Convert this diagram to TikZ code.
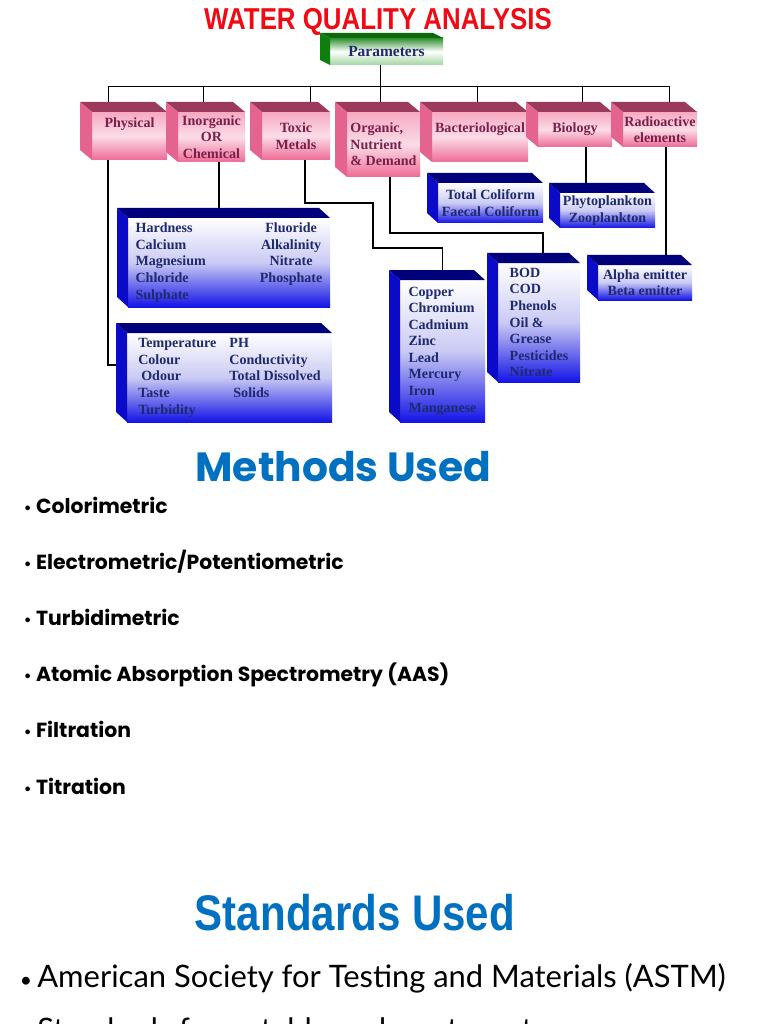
\documentclass[tikz,border=0pt]{standalone}
\usepackage{fontspec}
\setmainfont{Liberation Serif}
\newfontfamily\titlefont[FakeStretch=0.855]{Liberation Sans}
\newfontfamily\gothicfont{Poppins}
\newfontfamily\condfont[FakeStretch=0.84]{Liberation Sans}
\newfontfamily\lightfont{Lato}
\usetikzlibrary{positioning,backgrounds}

\newdimen\pxu \pxu=0.025cm

\definecolor{titleRed}{HTML}{F00A14}
\definecolor{headBlue}{HTML}{0070C0}
\definecolor{boxNavy}{HTML}{1E2A6E}
\definecolor{roseLight}{HTML}{F6A9C2}
\definecolor{rosePale}{HTML}{FBDCE7}
\definecolor{roseDeep}{HTML}{EE6B96}
\definecolor{roseDark}{HTML}{9C3A5D}
\definecolor{roseSide}{HTML}{E4638F}
\definecolor{roseText}{HTML}{7B1F4A}
\definecolor{bluePale}{HTML}{CACAF4}
\definecolor{blueDeep}{HTML}{1414E6}
\definecolor{blueDark}{HTML}{00007A}
\definecolor{blueSide}{HTML}{0A0AC8}
\definecolor{leafDeep}{HTML}{2F8F2F}
\definecolor{leafLight}{HTML}{A3D6A3}
\definecolor{leafDark}{HTML}{0B6B0B}
\definecolor{leafSide}{HTML}{0E7F0E}

\tikzset{
    faceBase/.style={
        inner sep=0pt,
        outer sep=0pt,
        align=center,
        font=\fontsize{10}{11.7}\selectfont\bfseries
    },
    pinkFace/.style={
        faceBase,
        top color=roseLight,
        bottom color=roseDeep,
        middle color=rosePale,
        text=roseText
    },
    blueFace/.style={
        faceBase,
        top color=white,
        bottom color=blueDeep,
        middle color=bluePale,
        text=boxNavy,
        font=\fontsize{10}{11.8}\selectfont\bfseries
    },
    greenFace/.style={
        faceBase,
        top color=leafDeep,
        bottom color=leafLight,
        middle color=white,
        text=boxNavy,
        font=\fontsize{11}{13}\selectfont\bfseries
    },
    pinkLid/.style={fill=roseDark},
    pinkSide/.style={fill=roseSide},
    blueLid/.style={fill=blueDark},
    blueSide/.style={fill=blueSide},
    busLine/.style={line width=0.7pt},
    branchLine/.style={line width=1.1pt},
    methodItem/.style={
        anchor=base west,
        font=\gothicfont\bfseries\fontsize{14.5}{18}\selectfont
    },
    standardItem/.style={
        anchor=base west,
        font=\lightfont\fontsize{22}{26}\selectfont
    }
}
\newcommand{\smallbullet}{{\fontsize{11}{11}\selectfont\textbullet}}
\newcommand{\midbullet}{{\fontsize{15}{15}\selectfont\textbullet}}

\begin{document}
\begin{tikzpicture}[x=0.025cm,y=-0.025cm]
    \useasboundingbox (0,0) rectangle (768,1024);

    \node[anchor=base,text=titleRed,font=\titlefont\bfseries\fontsize{21.5}{24}\selectfont] (title) at (378,30) {WATER QUALITY ANALYSIS};

    % parameter head
    \node[greenFace,minimum width=113\pxu,minimum height=27\pxu] (param) at (386.5,51.5) {Parameters};
    \fill[fill=leafDark] (param.north west) -- ++(-10,-5) -- ([shift={(-10,-5)}]param.north east) -- (param.north east) -- cycle;
    \fill[fill=leafSide] (param.north west) -- ++(-10,-5) -- ([shift={(-10,-5)}]param.south west) -- (param.south west) -- cycle;

    % groups
    \node[pinkFace,minimum width=75\pxu,minimum height=48\pxu,text depth=27\pxu] (phys) at (129.5,136) {Physical};
    \node[pinkFace,minimum width=67\pxu,minimum height=50\pxu] (inorg) at (211.5,137) {Inorganic\\OR\\Chemical};
    \node[pinkFace,minimum width=68\pxu,minimum height=48\pxu] (toxic) at (296,136) {Toxic\\Metals};
    \node[pinkFace,minimum width=73\pxu,minimum height=65\pxu,align=left] (org) at (383.5,144.5) {Organic,\\Nutrient\\\& Demand};
    \node[pinkFace,minimum width=96\pxu,minimum height=50\pxu,text depth=19\pxu] (bact) at (480,137) {Bacteriological};
    \node[pinkFace,minimum width=74\pxu,minimum height=35\pxu] (bio) at (575,129.5) {Biology};
    \node[pinkFace,minimum width=74\pxu,minimum height=35\pxu] (radio) at (660,129.5) {Radioactive\\elements};

    % parameter lists
    \node[blueFace,minimum width=202\pxu,minimum height=89\pxu] (hard) at (229,262.5) {\begin{tabular}{@{}l@{\hspace{54\pxu}}c@{}}
        Hardness & Fluoride\\ Calcium & Alkalinity\\ Magnesium & Nitrate\\ Chloride & Phosphate\\ Sulphate &
    \end{tabular}};
    \node[blueFace,minimum width=205\pxu,minimum height=89\pxu] (temp) at (229.5,377.5) {\begin{tabular}{@{}l@{\hspace{13\pxu}}l@{}}
        Temperature & PH\\ Colour & Conductivity\\ \hspace{3\pxu}Odour & Total Dissolved\\ Taste & \hspace{4\pxu}Solids\\ Turbidity &
    \end{tabular}};
    \node[blueFace,minimum width=85\pxu,minimum height=142\pxu,align=left] (copper) at (442.5,351) {Copper\\Chromium\\Cadmium\\Zinc\\Lead\\Mercury\\Iron\\Manganese};
    \node[blueFace,minimum width=82\pxu,minimum height=119\pxu,align=left] (bod) at (539,322.5) {BOD\\COD\\Phenols\\Oil \&\\Grease\\Pesticides\\Nitrate};
    \node[blueFace,minimum width=105\pxu,minimum height=40\pxu] (coli) at (490.5,203) {Total Coliform\\Faecal Coliform};
    \node[blueFace,minimum width=95\pxu,minimum height=35\pxu] (phyto) at (607.5,210.5) {Phytoplankton\\Zooplankton};
    \node[blueFace,minimum width=94\pxu,minimum height=35\pxu] (alpha) at (645,282.5) {Alpha emitter\\Beta emitter};

    \foreach \n in {phys,inorg,toxic,org,bact,bio,radio}{
        \fill[pinkLid] (\n.north west) -- ++(-12,-10) -- ([shift={(-12,-10)}]\n.north east) -- (\n.north east) -- cycle;
        \fill[pinkSide] (\n.north west) -- ++(-12,-10) -- ([shift={(-12,-10)}]\n.south west) -- (\n.south west) -- cycle;
    }
    \foreach \n in {hard,temp,copper,bod,coli,phyto,alpha}{
        \fill[blueLid] (\n.north west) -- ++(-11,-10) -- ([shift={(-11,-10)}]\n.north east) -- (\n.north east) -- cycle;
        \fill[blueSide] (\n.north west) -- ++(-11,-10) -- ([shift={(-11,-10)}]\n.south west) -- (\n.south west) -- cycle;
    }

    % connectors behind the boxes
    \begin{scope}[on background layer]
        \fill[white] (0,0) rectangle (768,1024);
        \coordinate (busL) at (108,86);
        \coordinate (busR) at (669,86);
        \coordinate (paramStem) at ([xshift=-6\pxu]param.south);
        \draw[busLine] (busL) -- (busR);
        \draw[branchLine] (paramStem) -- (paramStem |- busL);
        \foreach \n/\x in {phys/108,inorg/203,toxic/310,org/380,bact/477,bio/582,radio/669}{
            \coordinate (drop\n) at (\x,86);
            \draw[busLine] (drop\n) -- (drop\n |- \n.north);
        }
        \coordinate (inorgDrop) at ([xshift=-10\pxu]hard.north);
        \coordinate (bioDrop) at ([xshift=11\pxu]bio.south);
        \coordinate (radioDrop) at ([xshift=6\pxu]radio.south);
        \draw[branchLine] (phys.south -| busL) |- ([yshift=12.5\pxu]temp.west);
        \draw[branchLine] (inorgDrop |- inorg.south) -- (inorgDrop);
        \draw[branchLine] ([xshift=9\pxu]toxic.south) -- ++(0,43) -| ++(68,45) -| (copper.north);
        \draw[branchLine] ([xshift=6.5\pxu]org.south) -- ++(0,56) -| ([xshift=4\pxu]bod.north);
        \draw[branchLine] (bioDrop) -- (bioDrop |- phyto.north);
        \draw[branchLine] (radioDrop) -- (radioDrop |- alpha.north);
    \end{scope}

    % methods
    \node[anchor=base,text=headBlue,font=\gothicfont\bfseries\fontsize{29}{34}\selectfont] (methods) at (343.5,481) {Methods Used};
    \node[methodItem] (colori) at (19,513) {\smallbullet\ Colorimetric};
    \node[methodItem,below=56.2\pxu of colori.base west,anchor=base west] (electro) {\smallbullet\ Electrometric/Potentiometric};
    \node[methodItem,below=56.2\pxu of electro.base west,anchor=base west] (turbid) {\smallbullet\ Turbidimetric};
    \node[methodItem,below=56.2\pxu of turbid.base west,anchor=base west] (aas) {\smallbullet\ Atomic Absorption Spectrometry (AAS)};
    \node[methodItem,below=56.2\pxu of aas.base west,anchor=base west] (filtr) {\smallbullet\ Filtration};
    \node[methodItem,below=56.2\pxu of filtr.base west,anchor=base west] (titr) {\smallbullet\ Titration};

    % standards
    \node[anchor=base,text=headBlue,font=\condfont\bfseries\fontsize{35.6}{40}\selectfont] (standards) at (355,930) {Standards Used};
    \node[standardItem] (astm) at (15,987) {\midbullet\,American Society for Testing and Materials (ASTM)};
    \node[standardItem,below=53\pxu of astm.base west,anchor=base west] (potable) {\midbullet\,Standards for potable and waste water};
\end{tikzpicture}
\end{document}
